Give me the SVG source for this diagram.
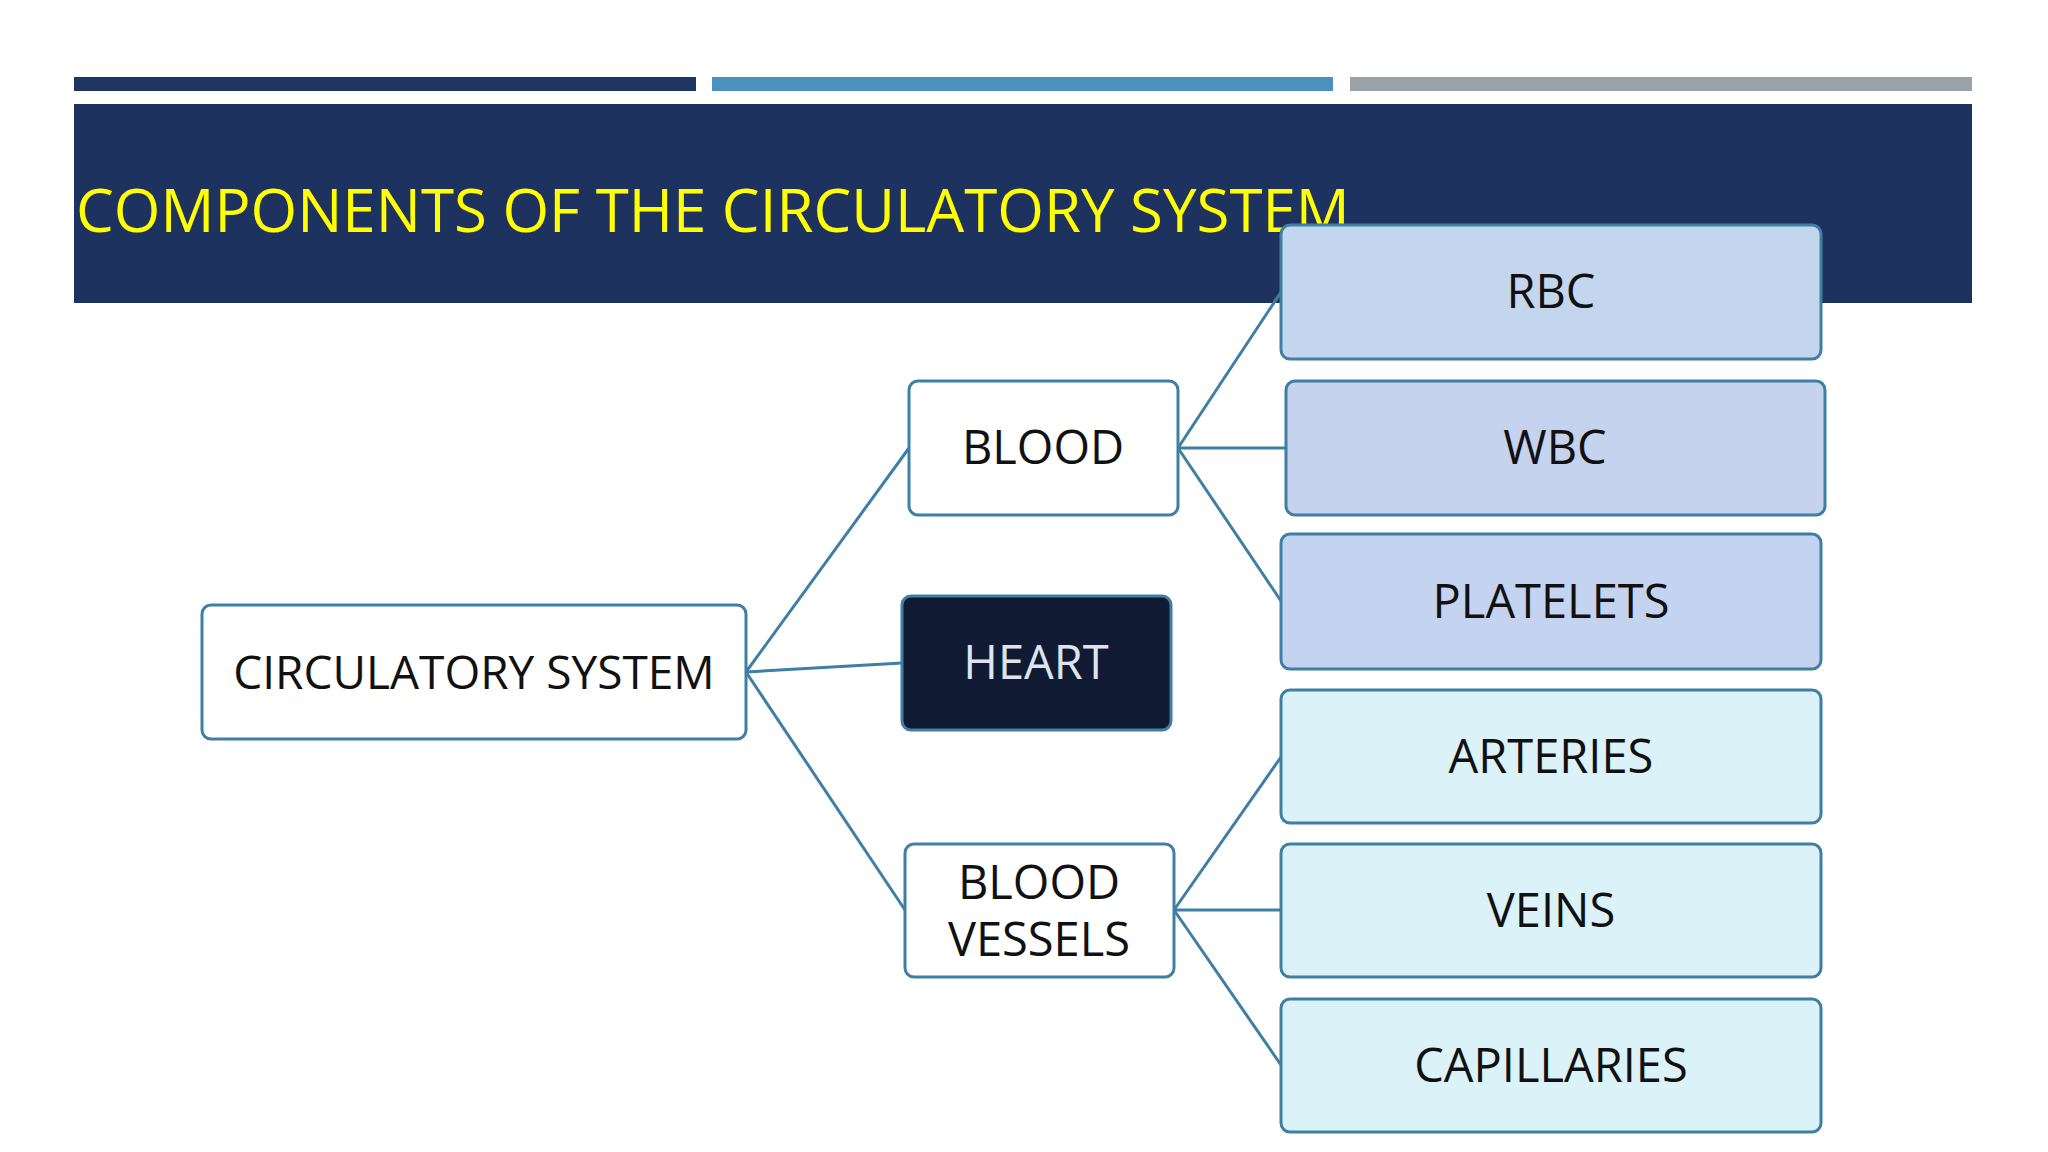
<svg xmlns="http://www.w3.org/2000/svg" width="2048" height="1152" viewBox="0 0 2048 1152">
<style>
.n rect{stroke:#3f7fa3;stroke-width:3}
.t{font-family:"Open Sans","Liberation Sans",sans-serif;font-size:47px;fill:#111;text-anchor:middle;dominant-baseline:central}
.c line{stroke:#3f7fa3;stroke-width:3}
</style>
<rect width="2048" height="1152" fill="#fff"/>
<rect x="74" y="77" width="622" height="14" fill="#1e3461"/>
<rect x="712" y="77" width="621" height="14" fill="#4a91bf"/>
<rect x="1350" y="77" width="622" height="14" fill="#9aa2a7"/>
<rect x="74" y="104" width="1898" height="199" fill="#1d325e"/>
<text x="76" y="232" font-family="'Open Sans','Liberation Sans',sans-serif" font-size="60" fill="#ffff00">COMPONENTS OF THE CIRCULATORY SYSTEM</text>
<g class="c">
<line x1="746" y1="672" x2="909" y2="448"/>
<line x1="746" y1="672" x2="902" y2="663"/>
<line x1="746" y1="672" x2="905" y2="910"/>
<line x1="1178" y1="448" x2="1281" y2="292"/>
<line x1="1178" y1="448" x2="1286" y2="448"/>
<line x1="1178" y1="448" x2="1281" y2="601"/>
<line x1="1174" y1="910" x2="1281" y2="757"/>
<line x1="1174" y1="910" x2="1281" y2="910"/>
<line x1="1174" y1="910" x2="1281" y2="1065"/>
</g>
<g id="circ" class="n"><rect x="202" y="605" width="544" height="134" rx="9" fill="#fff"/><text class="t" x="474" y="671" style="font-size:46px">CIRCULATORY SYSTEM</text></g>
<g id="blood" class="n"><rect x="909" y="381" width="269" height="134" rx="9" fill="#fff"/><text class="t" x="1043" y="446">BLOOD</text></g>
<g id="heart" class="n"><rect x="902" y="596" width="269" height="134" rx="9" fill="#111a33"/><text class="t" x="1036" y="661" style="fill:#dde4ee">HEART</text></g>
<g id="vessels" class="n"><rect x="905" y="844" width="269" height="133" rx="9" fill="#fff"/><text class="t" x="1039" y="881">BLOOD</text><text class="t" x="1039" y="938">VESSELS</text></g>
<g id="rbc" class="n"><rect x="1281" y="225" width="540" height="134" rx="9" fill="#c4d6ee"/><text class="t" x="1551" y="290">RBC</text></g>
<g id="wbc" class="n"><rect x="1286" y="381" width="539" height="134" rx="9" fill="#c5d3ee"/><text class="t" x="1555" y="446">WBC</text></g>
<g id="platelets" class="n"><rect x="1281" y="534" width="540" height="135" rx="9" fill="#c4d3f0"/><text class="t" x="1551" y="600">PLATELETS</text></g>
<g id="arteries" class="n"><rect x="1281" y="690" width="540" height="133" rx="9" fill="#daf2f8"/><text class="t" x="1551" y="755">ARTERIES</text></g>
<g id="veins" class="n"><rect x="1281" y="844" width="540" height="133" rx="9" fill="#daf2f8"/><text class="t" x="1551" y="909">VEINS</text></g>
<g id="capillaries" class="n"><rect x="1281" y="999" width="540" height="133" rx="9" fill="#daf2f8"/><text class="t" x="1551" y="1064">CAPILLARIES</text></g>
</svg>
